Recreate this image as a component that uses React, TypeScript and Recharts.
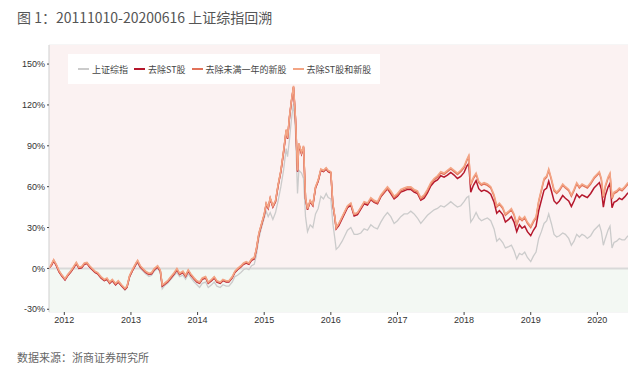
import React from 'react';
import {
  LineChart,
  Line,
  XAxis,
  YAxis,
  CartesianGrid,
  ReferenceArea,
  ReferenceLine,
} from 'recharts';

// time axis (decimal years), 2011-10-10 .. 2020-06-16
const T = [
  2011.77, 2011.81, 2011.84, 2011.88, 2011.92, 2011.96, 2012.01, 2012.05, 2012.10, 2012.14,
  2012.18, 2012.22, 2012.26, 2012.30, 2012.34, 2012.38, 2012.42, 2012.46, 2012.50, 2012.55,
  2012.60, 2012.64, 2012.68, 2012.72, 2012.77, 2012.81, 2012.86, 2012.91, 2012.94, 2012.98,
  2013.03, 2013.08, 2013.10, 2013.14, 2013.18, 2013.22, 2013.27, 2013.31, 2013.35, 2013.40,
  2013.44, 2013.47, 2013.50, 2013.55, 2013.60, 2013.65, 2013.69, 2013.73, 2013.78, 2013.82,
  2013.86, 2013.90, 2013.95, 2013.99, 2014.03, 2014.07, 2014.12, 2014.16, 2014.21, 2014.25,
  2014.29, 2014.34, 2014.38, 2014.43, 2014.47, 2014.52, 2014.56, 2014.60, 2014.65, 2014.69,
  2014.73, 2014.77, 2014.81, 2014.85, 2014.88, 2014.92, 2014.96, 2015.00, 2015.03, 2015.06,
  2015.09, 2015.13, 2015.17, 2015.21, 2015.25, 2015.29, 2015.33, 2015.35, 2015.38, 2015.41,
  2015.44, 2015.47, 2015.50, 2015.52, 2015.56, 2015.59, 2015.62, 2015.65, 2015.69, 2015.73,
  2015.77, 2015.81, 2015.85, 2015.89, 2015.93, 2015.96, 2016.00, 2016.03, 2016.06, 2016.08,
  2016.12, 2016.17, 2016.21, 2016.25, 2016.30, 2016.35, 2016.40, 2016.45, 2016.50, 2016.55,
  2016.60, 2016.65, 2016.70, 2016.75, 2016.80, 2016.85, 2016.90, 2016.95, 2017.00, 2017.05,
  2017.10, 2017.15, 2017.20, 2017.25, 2017.30, 2017.35, 2017.40, 2017.45, 2017.50, 2017.55,
  2017.60, 2017.65, 2017.70, 2017.75, 2017.80, 2017.85, 2017.90, 2017.95, 2018.00, 2018.04,
  2018.07, 2018.10, 2018.14, 2018.18, 2018.22, 2018.26, 2018.30, 2018.35, 2018.40, 2018.45,
  2018.49, 2018.53, 2018.58, 2018.62, 2018.67, 2018.71, 2018.75, 2018.79, 2018.83, 2018.87,
  2018.91, 2018.95, 2019.00, 2019.04, 2019.08, 2019.12, 2019.16, 2019.20, 2019.24, 2019.27,
  2019.31, 2019.35, 2019.39, 2019.43, 2019.48, 2019.52, 2019.57, 2019.61, 2019.65, 2019.69,
  2019.73, 2019.77, 2019.81, 2019.85, 2019.90, 2019.95, 2019.99, 2020.03, 2020.06, 2020.09,
  2020.12, 2020.16, 2020.19, 2020.22, 2020.25, 2020.29, 2020.33, 2020.37, 2020.41, 2020.46,
];

// 上证综指
const sse = [
  0, 3, 6, 2, -2, -5, -8, -5, -2, 1,
  4, 0, 1, 3, 4, 1, -1, -3, -4, -7,
  -9, -8, -11, -9, -12, -10, -13, -16, -14, -6,
  -1, 3, 4, 0, -2, -4, -6, -5, -2, 0,
  -3, -15, -13, -11, -8, -5, -3, -6, -5, -8,
  -4, -7, -10, -12, -14, -11, -10, -14, -12, -10,
  -13, -14, -12, -13, -13, -10, -6, -5, -3, -1,
  0, -1, 2, 3, 9, 22, 30, 37, 42, 38,
  41, 36, 41, 50, 60, 72, 88, 82, 95, 110,
  121, 100, 55, 72, 70, 66, 38, 27, 32, 30,
  40, 44, 53, 51, 55, 52, 51, 33, 22, 14,
  16, 20, 24, 28, 30, 25, 25, 26, 29, 28,
  32, 30, 29, 34, 38, 41, 38, 33, 35, 38,
  40, 40, 42, 40, 37, 33, 36, 39, 41, 43,
  44, 46, 45, 47, 49, 47, 45, 46, 49, 52,
  53, 34, 37, 41, 37, 35, 36, 37, 35, 29,
  20, 22, 19, 15, 16, 17, 13, 7, 11, 10,
  12, 8, 5, 9, 12, 22, 27, 33, 35, 40,
  33, 25, 23, 24, 26, 25, 22, 17, 20, 25,
  23, 25, 24, 22, 24, 28, 30, 32, 27, 17,
  22, 28, 31, 15, 19, 20, 22, 21, 21, 24,
];

// 去除ST股
const exST = [
  0, 2.5, 5.5, 2, -2.5, -5.5, -8.5, -5.5, -2.5, 0.5,
  3.5, 0, 0.5, 3, 3.5, 1, -1, -3, -4, -7,
  -9, -8, -11, -9, -12, -10, -13, -15.5, -14, -6,
  -1, 3.5, 5, 1, -1, -3, -4.5, -4, -1, 1,
  -2, -13, -12, -10, -7, -4, -1, -4.5, -3, -6,
  -2, -5, -8, -10, -11, -8, -7, -11, -9, -7,
  -10, -11, -9, -10, -10, -7, -3, -1, 1, 3,
  4, 3, 6, 7, 13, 25, 32, 39, 47, 44,
  51, 45, 49, 61, 71, 85, 101, 95, 111, 123,
  133, 109, 71, 91, 84, 89, 51, 43, 49, 46,
  59, 64, 72, 71, 73, 71, 70, 47, 37, 29,
  31.5, 36.5, 40.5, 44.5, 46.5, 38.5, 39.5, 43.5, 47.5, 46.5,
  50.5, 48.5, 47.5, 52.5, 55.5, 58.5, 55, 51, 53, 56,
  57, 58, 58, 56, 55, 50, 51.5, 55.5, 60.5, 63.5,
  65, 68, 67, 68.5, 70.5, 68.5, 66, 67.5, 70.5, 75,
  77, 56, 61, 64.5, 58.5, 56.5, 57.5, 56.5, 54.5, 48.5,
  40.5, 42.5, 39.5, 34, 36, 38, 34, 27, 32, 29.5,
  31, 27, 24, 28, 31, 42.5, 50, 57.5, 59, 64,
  57, 49.5, 47.5, 49.5, 53.5, 51.5, 49.5, 45.5, 49.5, 54.5,
  52, 54, 53, 52, 55, 59, 61, 63, 58, 45,
  53.5, 59.5, 62.5, 44.5, 48.5, 49.5, 51.5, 50.5, 52.5, 55.5,
];

// 去除未满一年的新股
const exNew = [
  0, 3, 6, 2.5, -2, -5, -8, -5, -2, 1,
  4, 0.5, 1, 3.5, 4, 1.5, -0.5, -2.5, -3.5, -6.5,
  -8.5, -7.5, -10.5, -8.5, -11.5, -9.5, -12.5, -15, -13.5, -5.5,
  -0.5, 4, 5.5, 1.5, -0.5, -2.5, -4, -3.5, -0.5, 1.5,
  -1.5, -12.5, -11.5, -9.5, -6.5, -3.5, -0.5, -4, -2.5, -5.5,
  -1.5, -4.5, -7.5, -9.5, -10.5, -7.5, -6.5, -10.5, -8.5, -6.5,
  -9.5, -10.5, -8.5, -9.5, -9.5, -6.5, -2.5, -0.5, 1.5, 3.5,
  4.5, 3.5, 6.5, 7.5, 13.5, 25.5, 32.5, 39.5, 47.5, 44.5,
  51.5, 45.5, 49.5, 61.5, 71.5, 85.5, 101.5, 95.5, 111.5, 123.5,
  133.5, 109.5, 71.5, 91.5, 84.5, 89.5, 51.5, 43.5, 49.5, 46.5,
  59.5, 64.5, 72.5, 71.5, 73.5, 71.5, 70.5, 47.5, 37.5, 29.5,
  32.5, 37.5, 41.5, 45.5, 47.5, 39.5, 40.5, 44.5, 48.5, 47.5,
  51, 49, 48, 53, 56, 59, 56, 52, 54, 57,
  58, 59, 59, 57, 56, 51, 53, 57, 62, 65,
  67, 70, 69, 71, 73, 71, 69, 71, 74, 79,
  82, 61, 66, 69, 63, 61, 62, 61, 59, 53,
  45, 47, 44, 39, 41, 43, 39, 32, 37, 35,
  37, 33, 30, 34, 37, 49, 57, 65, 67, 72,
  65, 57, 55, 57, 61, 59, 57, 53, 57, 62,
  59, 61, 60, 59, 62, 66, 68, 70, 65, 52,
  60, 66, 69, 51, 55, 56, 58, 57, 59, 62,
];

// 去除ST股和新股
const exBoth = [
  0, 3.5, 6.5, 3, -1.5, -4.5, -7.5, -4.5, -1.5, 1.5,
  4.5, 1, 1.5, 4, 4.5, 2, 0, -2, -3, -6,
  -8, -7, -10, -8, -11, -9, -12, -14.5, -13, -5,
  0, 4.5, 6, 2, 0, -2, -3.5, -3, 0, 2,
  -1, -12, -11, -9, -6, -3, 0, -3.5, -2, -5,
  -1, -4, -7, -9, -10, -7, -6, -10, -8, -6,
  -9, -10, -8, -9, -9, -6, -2, 0, 2, 4,
  5, 4, 7, 8, 14, 26, 33, 40, 48, 45,
  52, 46, 50, 62, 72, 86, 102, 96, 112, 124,
  134, 110, 72, 92, 85, 90, 52, 44, 50, 47,
  60, 65, 73, 72, 74, 72, 71, 48, 38, 30,
  33, 38, 42, 46, 48, 40, 41, 45, 49, 48,
  52, 50, 49, 54, 57, 60, 57, 53, 55, 58,
  59, 60, 60, 58, 57, 52, 54, 58, 63, 66,
  68, 71, 70, 72, 74, 72, 70, 72, 75, 80,
  83, 62, 67, 70, 64, 62, 63, 62, 60, 54,
  46, 48, 45, 40, 42, 44, 40, 33, 38, 36,
  38, 34, 31, 35, 38, 50, 58, 66, 68, 73,
  66, 58, 56, 58, 62, 60, 58, 54, 58, 63,
  60, 62, 61, 60, 63, 67, 69, 71, 66, 53,
  61, 67, 70, 52, 56, 57, 59, 58, 60, 63,
];

const yearTicks = [2012, 2013, 2014, 2015, 2016, 2017, 2018, 2019, 2020];
const pctTicks = [-30, 0, 30, 60, 90, 120, 150];

const series = [
  { key: 'sse', name: '上证综指', color: '#cbcbcb', width: 1.3 },
  { key: 'exST', name: '去除ST股', color: '#b5172c', width: 1.5 },
  { key: 'exNew', name: '去除未满一年的新股', color: '#e2725a', width: 1.5 },
  { key: 'exBoth', name: '去除ST股和新股', color: '#f3a585', width: 1.5 },
];

const data = T.map((t, i) => ({
  t,
  sse: sse[i],
  exST: exST[i],
  exNew: exNew[i],
  exBoth: exBoth[i],
}));

const FONT = '"Liberation Sans", "Noto Sans CJK SC", sans-serif';
const CJK = '"Noto Sans CJK SC", sans-serif';

export default function App() {
  return (
    <div
      style={{
        position: 'absolute',
        left: 0,
        top: 0,
        width: 640,
        height: 371,
        background: '#fff',
        overflow: 'hidden',
      }}
    >
      <div
        style={{
          position: 'absolute',
          left: 17,
          top: 7,
          fontFamily: CJK,
          fontSize: 14,
          color: '#555',
          whiteSpace: 'nowrap',
        }}
      >
        图 1：20111010-20200616 上证综指回溯
      </div>

      <div style={{ position: 'absolute', left: 0, top: 0 }}>
        <LineChart
          width={640}
          height={340}
          data={data}
          margin={{ top: 45, right: 12, bottom: 8, left: 9 }}
        >
          <ReferenceArea y1={0} y2={164} fill="#fbf2f2" fillOpacity={1} stroke="none" />
          <ReferenceArea y1={-32} y2={0} fill="#f3f8f3" fillOpacity={1} stroke="none" />
          <CartesianGrid vertical={false} stroke="#ececec" />
          <ReferenceLine y={0} stroke="#d9d9d9" strokeWidth={2} />
          <XAxis
            type="number"
            dataKey="t"
            domain={[2011.77, 2020.46]}
            ticks={yearTicks}
            tickFormatter={(v) => String(v)}
            axisLine={false}
            tickLine={{ stroke: '#444' }}
            tickSize={3}
            tick={{ fill: '#333', fontSize: 9, fontFamily: FONT }}
            height={20}
            allowDataOverflow
          />
          <YAxis
            type="number"
            domain={[-32, 164]}
            ticks={pctTicks}
            tickFormatter={(v) => `${v}%`}
            axisLine={{ stroke: '#cfcfcf' }}
            tickLine={{ stroke: '#444' }}
            tickSize={2}
            tick={{ fill: '#333', fontSize: 9, fontFamily: FONT }}
            width={40}
            allowDataOverflow
          />
          {series.map((s) => (
            <Line
              key={s.key}
              type="linear"
              dataKey={s.key}
              name={s.name}
              stroke={s.color}
              strokeWidth={s.width}
              dot={false}
              isAnimationActive={false}
            />
          ))}
        </LineChart>
      </div>

      {/* legend box */}
      <div
        style={{
          position: 'absolute',
          left: 68,
          top: 54,
          width: 312,
          height: 30,
          background: '#fff',
          display: 'flex',
          alignItems: 'center',
          paddingLeft: 10,
          boxSizing: 'border-box',
          fontFamily: CJK,
          fontSize: 9,
          color: '#444',
          whiteSpace: 'nowrap',
        }}
      >
        {series.map((s) => (
          <div key={s.key} style={{ display: 'flex', alignItems: 'center', marginRight: 6 }}>
            <span
              style={{
                display: 'inline-block',
                width: 11,
                height: 2,
                background: s.color,
                marginRight: 3,
              }}
            />
            <span>{s.name}</span>
          </div>
        ))}
      </div>

      <div
        style={{
          position: 'absolute',
          left: 17,
          top: 349,
          fontFamily: CJK,
          fontSize: 11,
          color: '#666',
          whiteSpace: 'nowrap',
        }}
      >
        数据来源：浙商证券研究所
      </div>
    </div>
  );
}
